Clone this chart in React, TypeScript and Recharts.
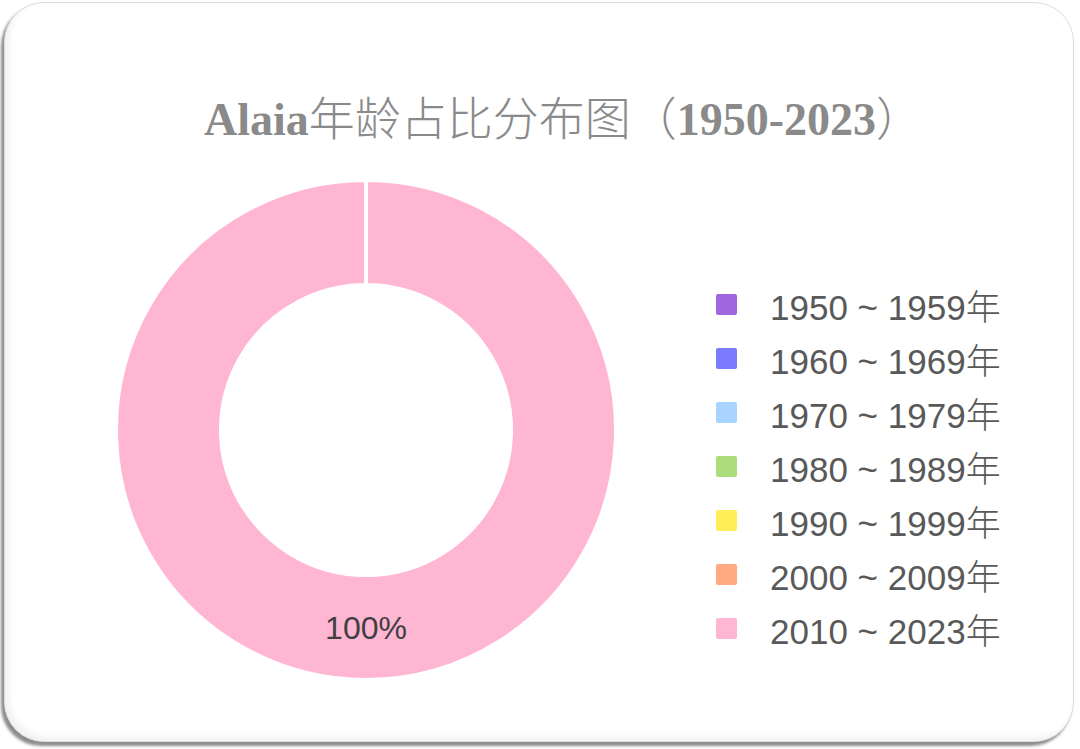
import { PieChart, Pie, Cell } from "recharts";

const categories = [
  "1950 ~ 1959年",
  "1960 ~ 1969年",
  "1970 ~ 1979年",
  "1980 ~ 1989年",
  "1990 ~ 1999年",
  "2000 ~ 2009年",
  "2010 ~ 2023年",
];
const shares = [0, 0, 0, 0, 0, 0, 100];
const palette = ["#a066dd", "#7b7bff", "#a8d4ff", "#addc7c", "#ffee58", "#ffaa80", "#ffb6d3"];

const rows = categories.map((name, i) => ({ name, value: shares[i] }));

const sansFont = '"Liberation Sans", "Noto Sans CJK SC", sans-serif';
const cjkFont = '"Noto Sans CJK SC", sans-serif';
const serifFont = '"Liberation Serif", serif';

const renderLabel = (props: any) => {
  const { cx, cy, midAngle, innerRadius, outerRadius, percent } = props;
  if (!percent) return null;
  const r = (innerRadius + outerRadius) / 2;
  const rad = (Math.PI / 180) * midAngle;
  const x = cx + r * Math.cos(rad);
  const y = cy - r * Math.sin(rad);
  return (
    <text x={x} y={y} fill="#404040" fontSize={32} fontFamily={sansFont} textAnchor="middle" dominantBaseline="central">
      {`${Math.round(percent * 100)}%`}
    </text>
  );
};

export default function App() {
  return (
    <div style={{ position: "relative", width: 1080, height: 749, background: "#fff", fontFamily: sansFont }}>
      <style>{`body{margin:0}`}</style>
      <div
        style={{
          position: "absolute",
          left: 4,
          top: 2,
          width: 1068,
          height: 738,
          borderRadius: 40,
          border: "1px solid #dcdcdc",
          boxShadow: "-3px 4px 3px rgba(0,0,0,0.45), inset 4px -4px 6px rgba(0,0,0,0.06)",
          background: "#fff",
        }}
      />
      <div
        style={{
          position: "absolute",
          left: 0,
          top: 87,
          width: 1126,
          textAlign: "center",
          fontSize: 46,
          lineHeight: "56px",
          color: "#8a8a8a",
          whiteSpace: "nowrap",
        }}
      >
        <span style={{ fontFamily: serifFont, fontWeight: 700 }}>Alaia</span>
        <span style={{ fontFamily: cjkFont, fontWeight: 300 }}>年龄占比分布图（</span>
        <span style={{ fontFamily: serifFont, fontWeight: 700 }}>1950-2023</span>
        <span style={{ fontFamily: cjkFont, fontWeight: 300 }}>）</span>
      </div>
      <div style={{ position: "absolute", left: 0, top: 0 }}>
        <PieChart width={1080} height={749}>
          <Pie
            data={rows}
            dataKey="value"
            nameKey="name"
            cx={361}
            cy={425}
            innerRadius={145}
            outerRadius={250}
            startAngle={90}
            endAngle={-270}
            stroke="#ffffff"
            strokeWidth={4}
            label={renderLabel}
            labelLine={false}
            isAnimationActive={false}
          >
            {rows.map((row, i) => (
              <Cell key={row.name} fill={palette[i]} />
            ))}
          </Pie>
        </PieChart>
      </div>
      <div style={{ position: "absolute", left: 716, top: 277 }}>
        {categories.map((name, i) => (
          <div key={name} style={{ display: "flex", alignItems: "center", height: 54 }}>
            <div style={{ width: 21, height: 21, background: palette[i], borderRadius: 2 }} />
            <div style={{ marginLeft: 33, fontSize: 35, color: "#595959", whiteSpace: "nowrap" }}>
              {name.slice(0, -1)}
              <span style={{ fontFamily: cjkFont, fontWeight: 300 }}>{name.slice(-1)}</span>
            </div>
          </div>
        ))}
      </div>
    </div>
  );
}
